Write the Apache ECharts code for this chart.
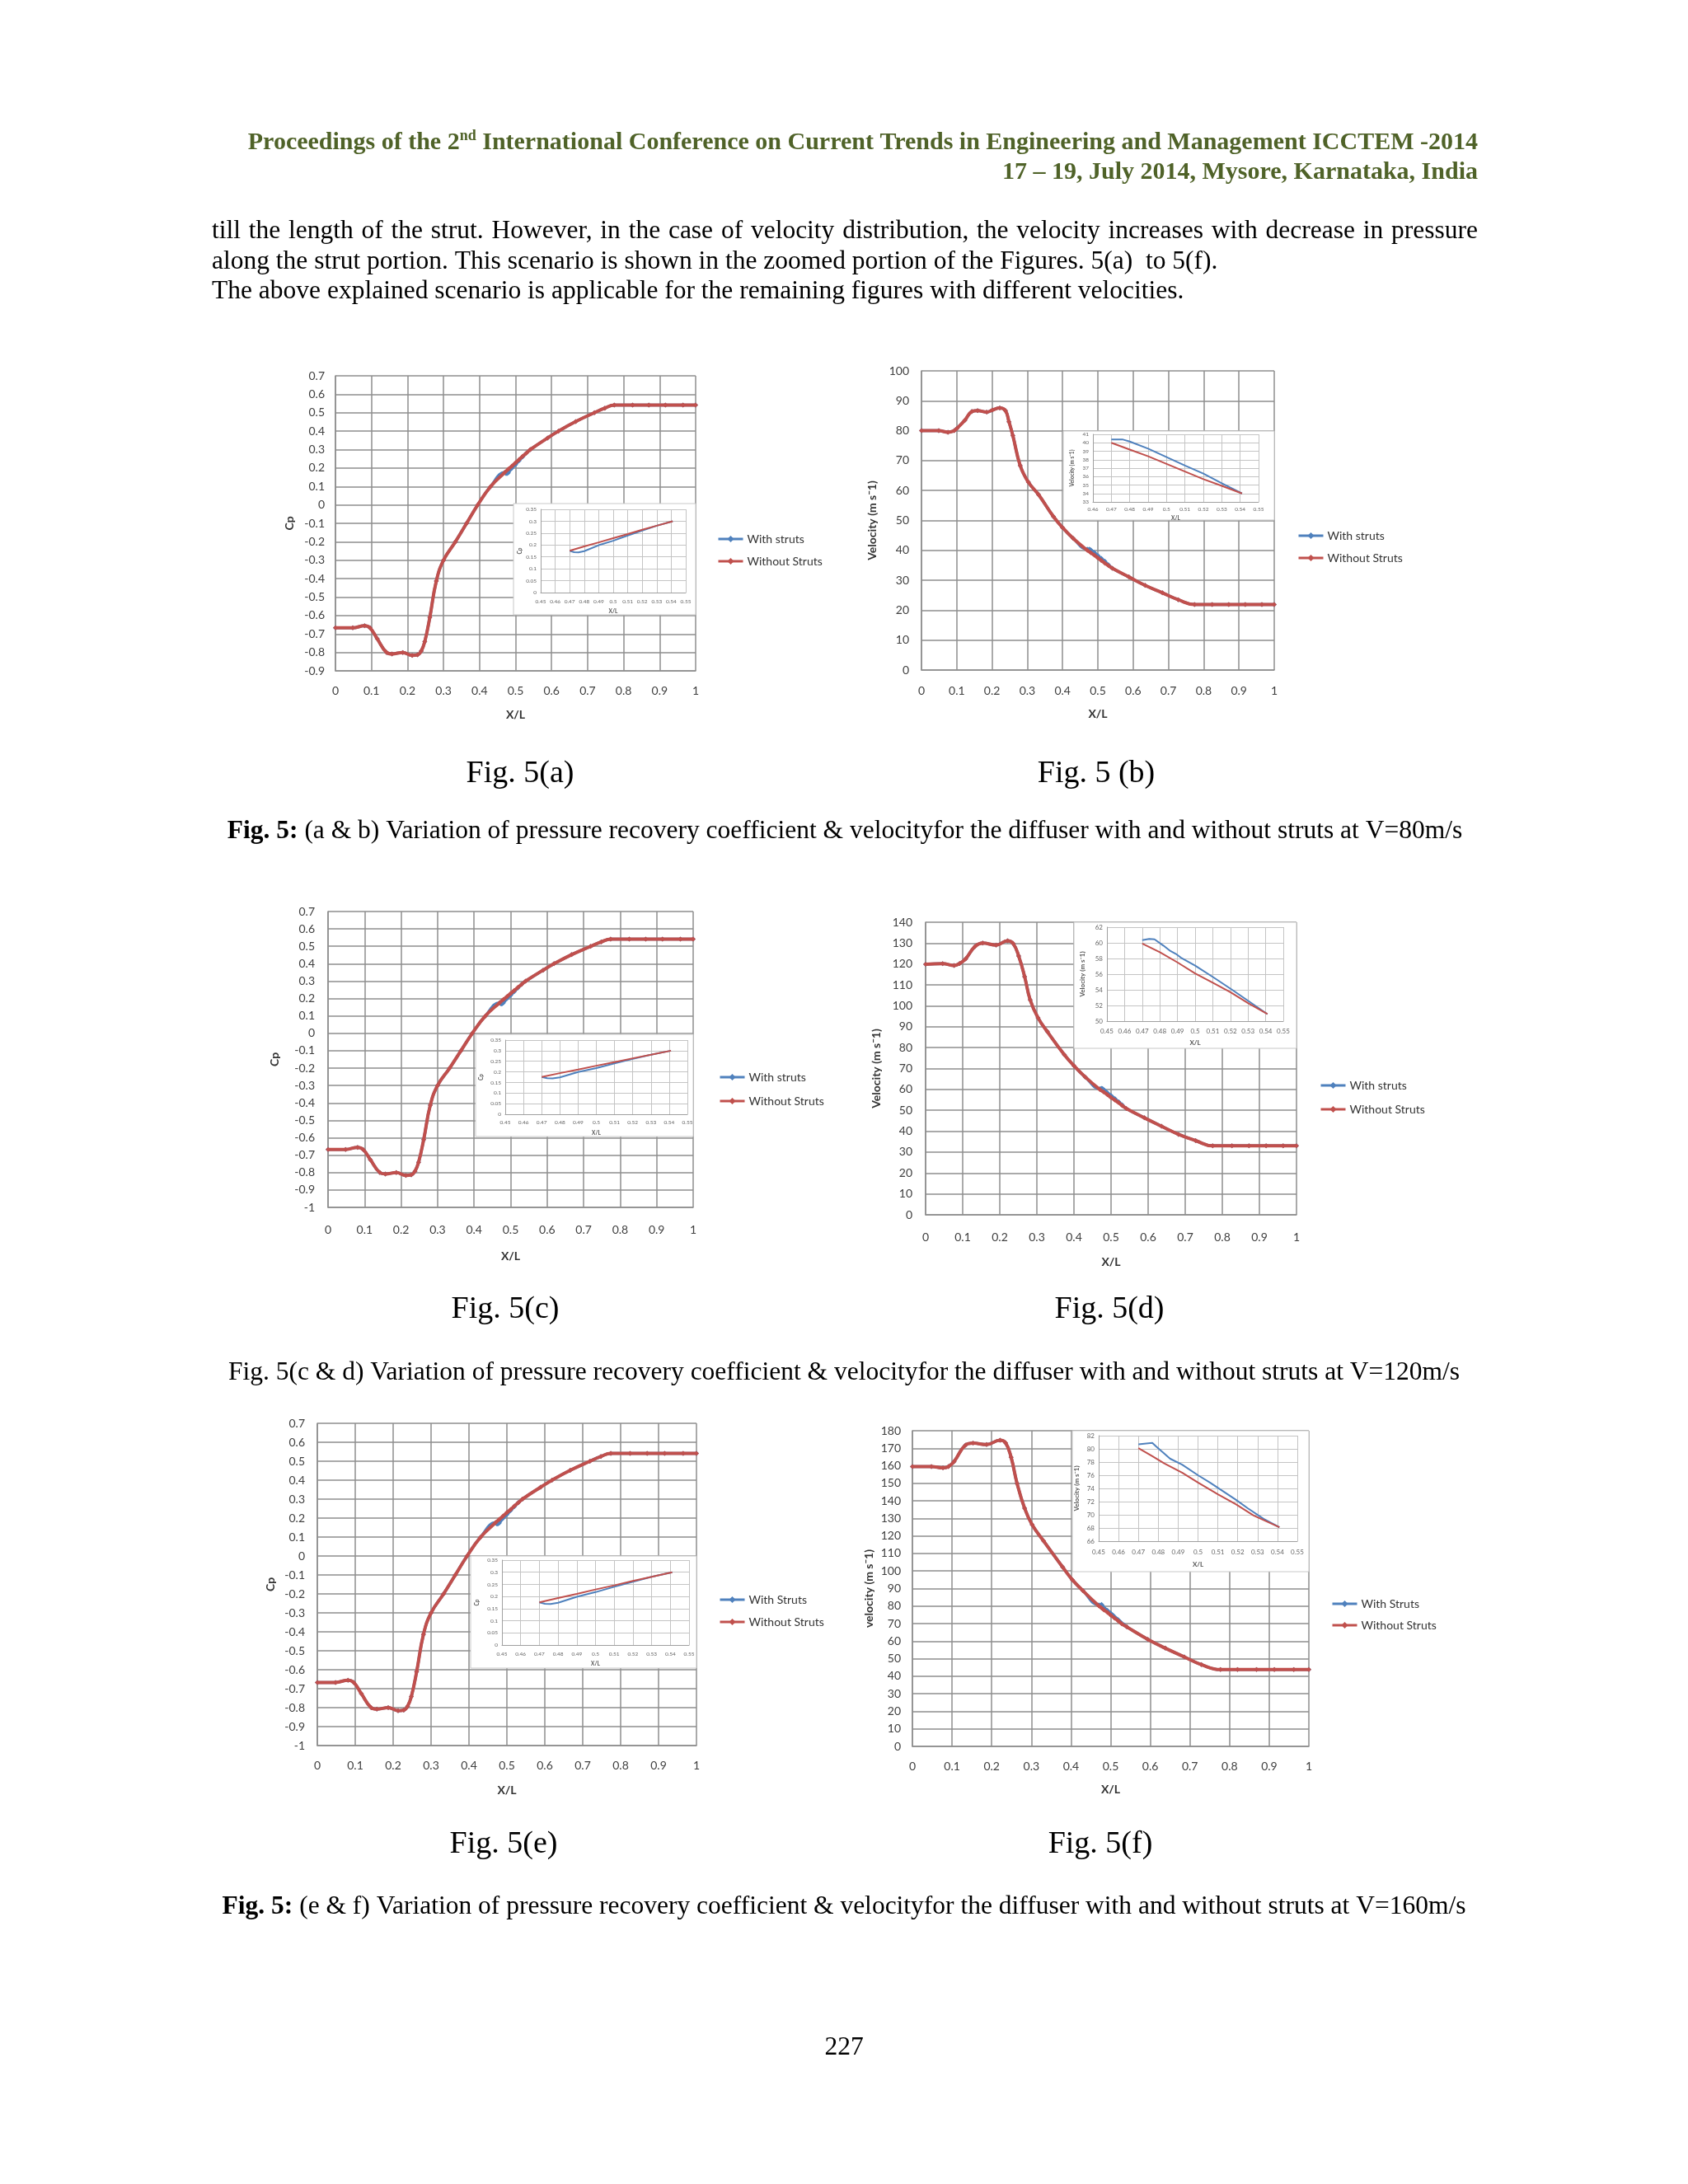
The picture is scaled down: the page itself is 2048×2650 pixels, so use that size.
<!DOCTYPE html>
<html><head><meta charset="utf-8">
<script src="https://cdn.jsdelivr.net/npm/echarts@6.0.0/dist/echarts.min.js"></script>
<style>html,body{margin:0;padding:0;background:#fff}#c{width:2048px;height:2650px}</style>
</head><body><div id="c"></div>
<script>
// ---------------- DATA ----------------
// Pressure recovery coefficient Cp vs X/L (same shape for all three velocities)
const cpBefore = [[0,-0.667],[0.048,-0.667],[0.081,-0.655],[0.096,-0.667],[0.116,-0.726],[0.142,-0.80],[0.157,-0.808],[0.187,-0.80],[0.213,-0.816],[0.228,-0.813],[0.238,-0.793],[0.248,-0.741],[0.262,-0.61],[0.280,-0.413],[0.30,-0.30],[0.333,-0.20],[0.364,-0.10],[0.395,0.0],[0.43,0.098]];
const cpStrutRed = [[0.47,0.176],[0.48,0.194],[0.49,0.211],[0.50,0.229],[0.51,0.246],[0.52,0.264],[0.53,0.281],[0.541,0.300]];
const cpStrutBlue = [[0.47,0.176],[0.473,0.170],[0.476,0.169],[0.48,0.174],[0.49,0.199],[0.50,0.218],[0.51,0.240],[0.52,0.261],[0.53,0.281],[0.541,0.300]];
const cpAfter = [[0.589,0.363],[0.619,0.40],[0.667,0.452],[0.719,0.50],[0.748,0.525],[0.774,0.541],[0.825,0.541],[0.870,0.541],[0.916,0.541],[0.965,0.541],[1.0,0.541]];

// Velocity at V = 80 m/s
const v80Before = [[0,80.0],[0.049,80.0],[0.075,79.5],[0.093,80.0],[0.10,80.7],[0.123,83.5],[0.143,86.4],[0.159,86.7],[0.185,86.2],[0.201,86.9],[0.222,87.6],[0.238,86.7],[0.248,83.0],[0.259,78.4],[0.280,68.3],[0.303,62.8],[0.332,58.6],[0.374,51.3],[0.40,47.6],[0.43,44.0]];
const v80StrutRed = [[0.47,40.0],[0.48,39.2],[0.49,38.4],[0.50,37.5],[0.51,36.6],[0.52,35.7],[0.53,34.9],[0.541,34.0]];
const v80StrutBlue = [[0.47,40.4],[0.476,40.4],[0.48,40.15],[0.49,39.3],[0.50,38.3],[0.51,37.3],[0.52,36.35],[0.53,35.2],[0.541,34.0]];
const v80After = [[0.588,31.1],[0.634,28.3],[0.683,25.8],[0.728,23.5],[0.774,21.9],[0.824,21.9],[0.871,21.9],[0.918,21.9],[0.965,21.9],[1,21.9]];

// Velocity at V = 120 m/s
const v120Before = [[0,119.9],[0.046,120.2],[0.077,119.3],[0.092,120.3],[0.108,122.5],[0.133,128.4],[0.154,130.0],[0.19,129.1],[0.221,131.1],[0.236,129.8],[0.251,123.8],[0.267,114.0],[0.282,102.8],[0.303,94.3],[0.328,87.7],[0.374,76.6],[0.40,71.3],[0.43,66.0]];
const v120StrutRed = [[0.47,59.9],[0.48,58.8],[0.49,57.5],[0.50,56.1],[0.51,54.9],[0.52,53.7],[0.53,52.3],[0.541,50.9]];
const v120StrutBlue = [[0.47,60.35],[0.474,60.5],[0.477,60.45],[0.482,59.65],[0.486,58.95],[0.489,58.6],[0.492,58.1],[0.50,57.1],[0.511,55.5],[0.521,54.0],[0.53,52.6],[0.541,50.9]];
const v120After = [[0.59,46.4],[0.636,42.4],[0.682,38.5],[0.728,35.5],[0.774,33.0],[0.826,33.0],[0.872,33.0],[0.918,33.0],[0.964,33.0],[1,33.0]];

// Velocity at V = 160 m/s
const v160Before = [[0,159.6],[0.048,159.6],[0.077,158.8],[0.091,159.6],[0.105,162.4],[0.134,171.8],[0.153,172.9],[0.187,172.1],[0.221,174.6],[0.235,173.1],[0.249,164.8],[0.264,149.9],[0.283,135.8],[0.302,126.4],[0.331,117.1],[0.379,102.2],[0.403,95.1],[0.43,88.8]];
const v160StrutRed = [[0.47,80.1],[0.477,78.9],[0.483,77.8],[0.492,76.4],[0.50,74.9],[0.51,73.1],[0.519,71.6],[0.528,69.9],[0.541,68.1]];
const v160StrutBlue = [[0.47,80.7],[0.477,80.9],[0.479,80.35],[0.486,78.5],[0.492,77.6],[0.50,76.0],[0.506,74.9],[0.519,72.3],[0.525,71.0],[0.533,69.4],[0.541,68.1]];
const v160After = [[0.594,61.0],[0.638,56.0],[0.686,51.0],[0.729,46.6],[0.777,43.8],[0.82,43.8],[0.868,43.8],[0.913,43.8],[0.962,43.8],[1,43.8]];

// Texts
const headerLine1 = ['Proceedings of the 2', 'nd', ' International Conference on Current Trends in Engineering and Management ICCTEM -2014'];
const headerLine2 = '17 \u2013 19, July 2014, Mysore, Karnataka, India';
const bodyLines = [
  'till the length of the strut. However, in the case of velocity distribution, the velocity increases with decrease in pressure',
  'along the strut portion. This scenario is shown in the zoomed portion of the Figures. 5(a)  to 5(f).',
  'The above explained scenario is applicable for the remaining figures with different velocities.'
];
const figLabels = ['Fig. 5(a)','Fig. 5 (b)','Fig. 5(c)','Fig. 5(d)','Fig. 5(e)','Fig. 5(f)'];
const captionAB = ['Fig. 5:', ' (a & b) Variation of pressure recovery coefficient & velocityfor the diffuser with and without struts at V=80m/s'];
const captionCD = 'Fig. 5(c & d) Variation of pressure recovery coefficient & velocityfor the diffuser with and without struts at V=120m/s';
const captionEF = ['Fig. 5:', ' (e & f) Variation of pressure recovery coefficient & velocityfor the diffuser with and without struts at V=160m/s'];
const pageNumber = '227';

// ---------------- STYLE / LAYOUT ----------------
const RED = '#c0504d', BLUE = '#4f81bd', GRIDC = '#8e8e8e', OLIVE = '#4f6228';
const SANS = 'Lato, "Noto Sans", sans-serif';
const SERIF = '"Liberation Serif", "Times New Roman", serif';
const BODY_SIZE = 31.5;

const charts = [
  {g:[407,456,437,358], y:{min:-0.9,max:0.7,interval:0.1}, yName:'Cp', yng:49, xng:46, xlm:17, ylm:13,
   lg:{left:870,top:647,gap:13,names:['With struts','Without Struts']},
   blue:cpBefore.concat(cpStrutBlue,cpAfter), red:cpBefore.concat(cpStrutRed,cpAfter),
   ins:{g:[656,618,176,101], box:[623,611,221,135], x:{min:0.45,max:0.55,interval:0.01}, y:{min:0,max:0.35,interval:0.05}, yName:'Cp', fs:6.5, xlm:7, xng:19, yng:20, blue:cpStrutBlue, red:cpStrutRed}},
  {g:[1118,450,428,363], y:{min:0,max:100,interval:10}, yName:'Velocity (m s\u00af1)', yng:53, xng:46, xlm:18, ylm:15,
   lg:{left:1574,top:643,gap:13,names:['With struts','Without Struts']},
   blue:v80Before.concat(v80StrutBlue,v80After), red:v80Before.concat(v80StrutRed,v80After),
   ins:{g:[1326,527,201,82], box:[1290,523,256,108], x:{min:0.46,max:0.55,interval:0.01}, y:{min:33,max:41,interval:1}, yName:'Velocity (m s\u00af1)', fs:6.5, xlm:5, xng:16, yng:22, blue:v80StrutBlue, red:v80StrutRed}},
  {g:[398,1106,443,359], y:{min:-1,max:0.7,interval:0.1}, yName:'Cp', yng:58, xng:52, xlm:20, ylm:16,
   lg:{left:872,top:1300,gap:15,names:['With struts','Without Struts']},
   blue:cpBefore.concat(cpStrutBlue,cpAfter), red:cpBefore.concat(cpStrutRed,cpAfter),
   ins:{g:[613,1262,221,90], box:[577,1255,264,124], x:{min:0.45,max:0.55,interval:0.01}, y:{min:0,max:0.35,interval:0.05}, yName:'Cp', fs:6.5, xlm:6, xng:19, yng:26, blue:cpStrutBlue, red:cpStrutRed}},
  {g:[1123,1119,450,355], y:{min:0,max:140,interval:10}, yName:'Velocity (m s\u00af1)', yng:53, xng:50, xlm:20, ylm:16,
   lg:{left:1601,top:1310,gap:15,names:['With struts','Without Struts']},
   blue:v120Before.concat(v120StrutBlue,v120After), red:v120Before.concat(v120StrutRed,v120After),
   ins:{g:[1343,1125,214,114], box:[1303,1119,270,153], x:{min:0.45,max:0.55,interval:0.01}, y:{min:50,max:62,interval:2}, yName:'Velocity (m s\u00af1)', fs:8, xlm:8, xng:22, yng:26, blue:v120StrutBlue, red:v120StrutRed}},
  {g:[385,1727,460,391], y:{min:-1,max:0.7,interval:0.1}, yName:'Cp', yng:50, xng:47, xlm:17, ylm:15,
   lg:{left:872,top:1934,gap:13,names:['With Struts','Without Struts']},
   blue:cpBefore.concat(cpStrutBlue,cpAfter), red:cpBefore.concat(cpStrutRed,cpAfter),
   ins:{g:[609,1893,227,103], box:[571,1888,274,136], x:{min:0.45,max:0.55,interval:0.01}, y:{min:0,max:0.35,interval:0.05}, yName:'Cp', fs:6.5, xlm:7, xng:19, yng:27, blue:cpStrutBlue, red:cpStrutRed}},
  {g:[1107,1736,481,383], y:{min:0,max:180,interval:10}, yName:'velocity (m s\u00af1)', yng:46, xng:45, xlm:17, ylm:14,
   lg:{left:1615,top:1939,gap:12,names:['With Struts','Without Struts']},
   blue:v160Before.concat(v160StrutBlue,v160After), red:v160Before.concat(v160StrutRed,v160After),
   ins:{g:[1333,1742,241,128], box:[1301,1736,287,171], x:{min:0.45,max:0.55,interval:0.01}, y:{min:66,max:82,interval:2}, yName:'Velocity (m s\u00af1)', fs:8, xlm:9, xng:24, yng:23, blue:v160StrutBlue, red:v160StrutRed}}
];

const option = {animation:false, backgroundColor:'#fff', grid:[], xAxis:[], yAxis:[], series:[], legend:[], graphic:{elements:[]}};

charts.forEach(c => {
  // main chart
  let gi = option.grid.length;
  option.grid.push({left:c.g[0], top:c.g[1], width:c.g[2], height:c.g[3]});
  option.xAxis.push({type:'value', gridIndex:gi, min:0, max:1, interval:0.1,
    axisLine:{show:true, onZero:false, lineStyle:{color:GRIDC, width:1.5}}, axisTick:{show:false},
    splitLine:{show:true, lineStyle:{color:GRIDC, width:1.5}},
    axisLabel:{fontSize:14, color:'#404040', fontFamily:SANS, margin:c.xlm},
    name:'X/L', nameLocation:'middle', nameGap:c.xng,
    nameTextStyle:{fontSize:14, fontWeight:'bold', color:'#333', fontFamily:SANS}});
  option.yAxis.push({type:'value', gridIndex:gi, min:c.y.min, max:c.y.max, interval:c.y.interval,
    axisLine:{show:true, onZero:false, lineStyle:{color:GRIDC, width:1.5}}, axisTick:{show:false},
    splitLine:{show:true, lineStyle:{color:GRIDC, width:1.5}},
    axisLabel:{fontSize:14, color:'#404040', fontFamily:SANS, margin:c.ylm},
    name:c.yName, nameLocation:'middle', nameGap:c.yng,
    nameTextStyle:{fontSize:14, fontWeight:'bold', color:'#333', fontFamily:SANS}});
  option.series.push({type:'line', name:c.lg.names[0], xAxisIndex:gi, yAxisIndex:gi, data:c.blue,
    smooth:0.45, symbol:'diamond', symbolSize:6, showSymbol:true, showAllSymbol:true, z:2,
    lineStyle:{color:BLUE, width:3.5}, itemStyle:{color:BLUE}});
  option.series.push({type:'line', name:c.lg.names[1], xAxisIndex:gi, yAxisIndex:gi, data:c.red,
    smooth:0.45, symbol:'diamond', symbolSize:6, showSymbol:true, showAllSymbol:true, z:3,
    lineStyle:{color:RED, width:4}, itemStyle:{color:RED}});
  option.legend.push({orient:'vertical', left:c.lg.left, top:c.lg.top, padding:0, itemGap:c.lg.gap,
    itemWidth:30, itemHeight:10, selectedMode:false, data:c.lg.names,
    lineStyle:{width:3}, textStyle:{fontSize:14, color:'#333', fontFamily:SANS, lineHeight:14}});

  // inset
  const n = c.ins;
  option.graphic.elements.push({type:'rect', z:5, shape:{x:n.box[0], y:n.box[1], width:n.box[2], height:n.box[3]},
    style:{fill:'#ffffff', stroke:'#c8c8c8', lineWidth:1}});
  gi = option.grid.length;
  option.grid.push({left:n.g[0], top:n.g[1], width:n.g[2], height:n.g[3]});
  option.xAxis.push({type:'value', gridIndex:gi, z:10, min:n.x.min, max:n.x.max, interval:n.x.interval,
    axisLine:{show:true, onZero:false, lineStyle:{color:'#a0a0a0', width:1}}, axisTick:{show:false},
    splitLine:{show:true, lineStyle:{color:'#c4c4c4', width:1}},
    axisLabel:{fontSize:n.fs, color:'#666', fontFamily:SANS, margin:n.xlm},
    name:'X/L', nameLocation:'middle', nameGap:n.xng,
    nameTextStyle:{fontSize:n.fs, fontWeight:'bold', color:'#555', fontFamily:SANS}});
  option.yAxis.push({type:'value', gridIndex:gi, z:10, min:n.y.min, max:n.y.max, interval:n.y.interval,
    axisLine:{show:true, onZero:false, lineStyle:{color:'#a0a0a0', width:1}}, axisTick:{show:false},
    splitLine:{show:true, lineStyle:{color:'#c4c4c4', width:1}},
    axisLabel:{fontSize:n.fs, color:'#666', fontFamily:SANS, margin:5},
    name:n.yName, nameLocation:'middle', nameGap:n.yng,
    nameTextStyle:{fontSize:n.fs, fontWeight:'bold', color:'#555', fontFamily:SANS}});
  option.series.push({type:'line', xAxisIndex:gi, yAxisIndex:gi, data:n.blue, z:12,
    showSymbol:false, lineStyle:{color:BLUE, width:2}, itemStyle:{color:BLUE}});
  option.series.push({type:'line', xAxisIndex:gi, yAxisIndex:gi, data:n.red, z:13,
    showSymbol:false, lineStyle:{color:RED, width:2}, itemStyle:{color:RED}});
});

// ---------------- PAGE TEXT ----------------
function txt(x, y, text, font, align, fill) {
  return {type:'text', x:x, y:y, z:20, style:{text:text, font:font, fill:fill||'#000',
    textAlign:align||'left', align:align||'left', textVerticalAlign:'middle', verticalAlign:'middle'}};
}
const G = option.graphic.elements;
const bodyFont = BODY_SIZE + 'px ' + SERIF;
// header
G.push({type:'text', x:1793, y:173, z:20, style:{
  text:'{b|' + headerLine1[0] + '}{s|' + headerLine1[1] + '}{b|' + headerLine1[2] + '}',
  rich:{b:{fontSize:30, fontWeight:'bold', fontFamily:SERIF, fill:OLIVE, lineHeight:34},
        s:{fontSize:18, fontWeight:'bold', fontFamily:SERIF, fill:OLIVE, lineHeight:18, verticalAlign:'top'}},
  textAlign:'right', align:'right', textVerticalAlign:'middle', verticalAlign:'middle'}});
G.push(txt(1793, 209, headerLine2, 'bold 30px ' + SERIF, 'right', OLIVE));
// justified first body line
(function(){
  const ctx = document.createElement('canvas').getContext('2d');
  ctx.font = bodyFont;
  const words = bodyLines[0].split(' ');
  const w = words.map(s => ctx.measureText(s).width);
  const total = w.reduce((a,b)=>a+b,0);
  const gap = (1793 - 257 - total) / (words.length - 1);
  let x = 257;
  words.forEach((s,i) => { G.push(txt(x, 281, s, bodyFont, 'left')); x += w[i] + gap; });
})();
G.push(txt(257, 318, bodyLines[1], bodyFont, 'left'));
G.push(txt(257, 354, bodyLines[2], bodyFont, 'left'));
// figure labels
const figPos = [[631,939],[1330,939],[613,1589],[1346,1589],[611,2238],[1335,2238]];
figLabels.forEach((t,i) => G.push(txt(figPos[i][0], figPos[i][1], t, '38px ' + SERIF, 'center')));
// captions
function capRich(parts, x, y) {
  return {type:'text', x:x, y:y, z:20, style:{
    text:'{b|' + parts[0] + '}{n|' + parts[1] + '}',
    rich:{b:{fontSize:BODY_SIZE, fontWeight:'bold', fontFamily:SERIF, fill:'#000'},
          n:{fontSize:BODY_SIZE, fontFamily:SERIF, fill:'#000'}},
    textAlign:'center', align:'center', textVerticalAlign:'middle', verticalAlign:'middle'}};
}
G.push(capRich(captionAB, 1025, 1009));
G.push(txt(1024, 1666, captionCD, bodyFont, 'center'));
G.push(capRich(captionEF, 1024, 2314));
G.push(txt(1024, 2485, pageNumber, bodyFont, 'center'));

const chart = echarts.init(document.getElementById('c'), null, {renderer:'canvas', width:2048, height:2650});
chart.setOption(option);
</script></body></html>
